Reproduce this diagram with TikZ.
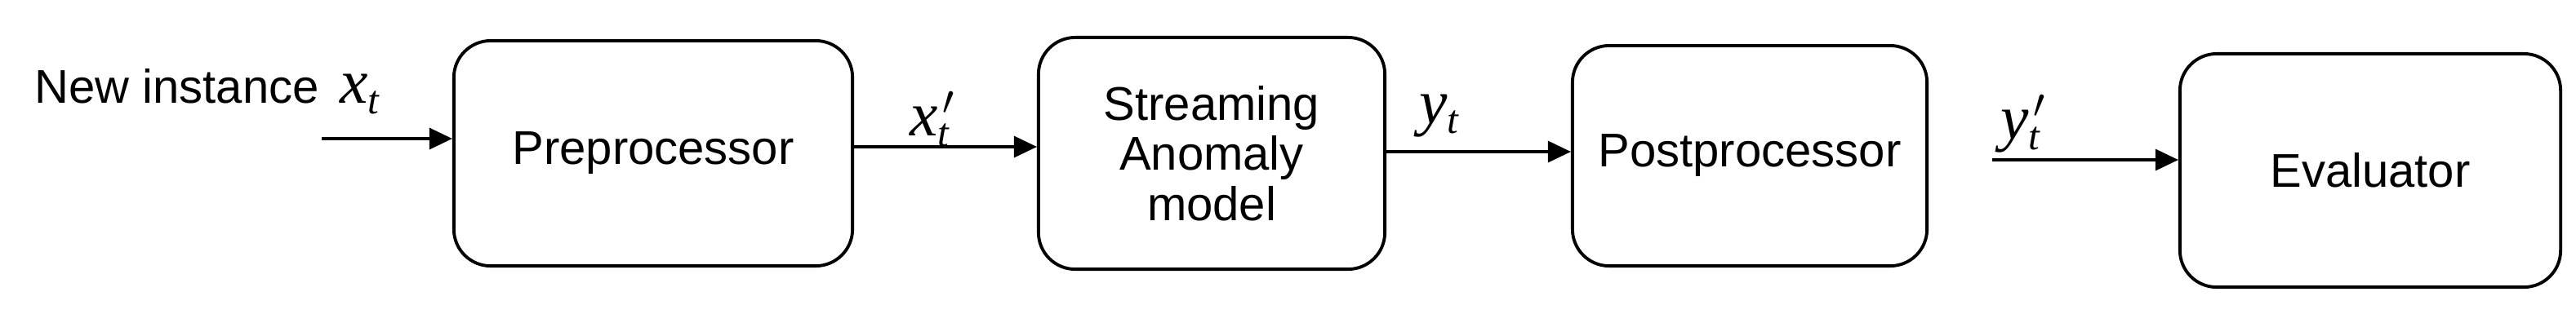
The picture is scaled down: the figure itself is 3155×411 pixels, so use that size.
\documentclass[tikz,border=0pt]{standalone}
\usepackage{fontspec}
\setmainfont{Liberation Sans}
\newfontfamily\mathser{Liberation Serif}
\usetikzlibrary{arrows.meta}
\begin{document}
\begin{tikzpicture}[x=0.01cm,y=-0.01cm,
  box/.style={draw,line width=1.1pt,rounded corners=0.45cm,align=center,font=\fontsize{16.5}{17.5}\selectfont,inner sep=0pt},
  arr/.style={line width=0.9pt,-{Triangle[length=0.28cm,width=0.26cm]}},
  lab/.style={font=\fontsize{22}{24}\mathser\itshape}]
\useasboundingbox (0,0) rectangle (3155,411);
\node[box,minimum width=4.88cm,minimum height=2.76cm] (p) at (800,188) {Preprocessor};
\node[box,minimum width=4.24cm,minimum height=2.84cm] (s) at (1484,188) {Streaming\\Anomaly\\model};
\node[box,minimum width=4.34cm,minimum height=2.70cm] (q) at (2143,191) {Postprocessor};
\node[box,minimum width=4.66cm,minimum height=2.86cm] (e) at (2903,209) {Evaluator};
\node[anchor=west,font=\fontsize{16.5}{20}\selectfont] (n) at (30,112) {New instance \,{\mathser\itshape\fontsize{22}{24}\selectfont x\raisebox{-0.35ex}{\fontsize{14}{14}\selectfont t}}};
\coordinate (a0) at (394,170);
\coordinate (a1) at (1044,180);
\coordinate (a2) at (1696,186);
\coordinate (a3) at (2440,196);
\draw[arr] (a0) -- (a0 -| p.west);
\draw[arr] (a1) -- (a1 -| s.west);
\draw[arr] (a2) -- (a2 -| q.west);
\draw[arr] (a3) -- (a3 -| e.west);
\node[lab] (l1) at (1142,146) {x\raisebox{-0.35ex}{\fontsize{14}{14}\selectfont t}\kern-0.1em$'$};
\node[lab] (l2) at (1762,142) {y\raisebox{-0.35ex}{\fontsize{14}{14}\selectfont t}};
\node[lab] (l3) at (2478,152) {y\raisebox{-0.35ex}{\fontsize{14}{14}\selectfont t}\kern-0.1em$'$};
\end{tikzpicture}
\end{document}
